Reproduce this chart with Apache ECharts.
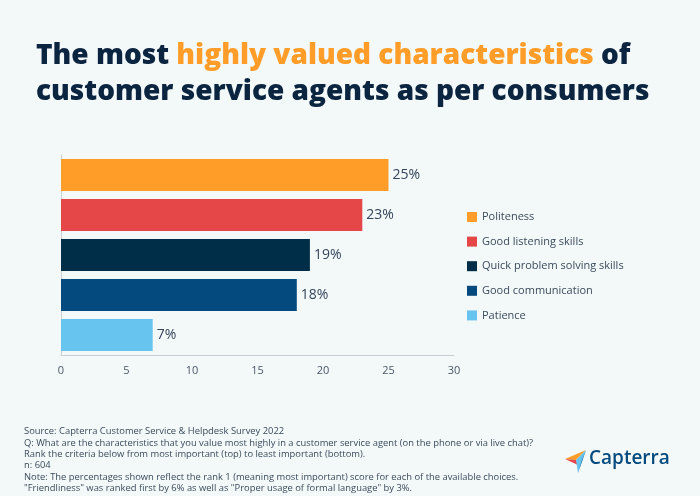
<!DOCTYPE html>
<html>
<head>
<meta charset="utf-8">
<script src="https://cdn.jsdelivr.net/npm/echarts@6/dist/echarts.min.js"></script>
<style>
  html, body { margin: 0; padding: 0; background: #f3f8f9; }
  #chart { width: 700px; height: 496px; }
</style>
</head>
<body>
<div id="chart"></div>
<script>
const categories = ["Politeness", "Good listening skills", "Quick problem solving skills", "Good communication", "Patience"];
const values = [25, 23, 19, 18, 7];
const colors = ["#ff9d28", "#e54647", "#002d47", "#044a7e", "#67c4ee"];
const xTicks = { min: 0, max: 30, interval: 5 };

const notes = [
  "Source: Capterra Customer Service & Helpdesk Survey 2022",
  "Q: What are the characteristics that you value most highly in a customer service agent (on the phone or via live chat)?",
  "Rank the criteria below from most important (top) to least important (bottom).",
  "n: 604",
  "Note: The percentages shown reflect the rank 1 (meaning most important) score for each of the available choices.",
  "\"Friendliness\" was ranked first by 6% as well as \"Proper usage of formal language\" by 3%."
];

const chart = echarts.init(document.getElementById("chart"));

// one series per category so the legend lists each one
const series = categories.map((name, i) => ({
  name: name,
  type: "bar",
  stack: "all",
  barWidth: "80%",
  itemStyle: { color: colors[i] },
  label: {
    show: true,
    position: "right",
    distance: 4,
    formatter: "{c}%",
    color: "#34445a",
    fontSize: 14,
    fontFamily: "Open Sans"
  },
  data: categories.map((c, j) => (j === i ? values[i] : null))
}));

const option = {
  backgroundColor: "#f3f8f9",
  animation: false,
  title: {
    left: 31,
    top: 33,
    text: "{a|The most }{b|highly valued characteristics}{a| of}\n{a|customer service agents as per consumers}",
    textStyle: {
      rich: {
        a: { fontFamily: "Open Sans", fontWeight: 800, fontSize: 28, color: "#0b2440", lineHeight: 36 },
        b: { fontFamily: "Open Sans", fontWeight: 800, fontSize: 28, color: "#ff9d28", lineHeight: 36 }
      }
    }
  },
  legend: {
    orient: "vertical",
    left: 462,
    top: 206,
    itemWidth: 10,
    itemHeight: 10,
    itemGap: 12.6,
    icon: "rect",
    textStyle: { color: "#3b4b5c", fontSize: 11, lineHeight: 12, fontFamily: "Open Sans" },
    data: categories
  },
  grid: { left: 61, right: 246, top: 155, bottom: 141 },
  xAxis: {
    type: "value",
    min: xTicks.min,
    max: xTicks.max,
    interval: xTicks.interval,
    splitLine: { show: false },
    axisLine: { show: true, lineStyle: { color: "#c9cfd4" } },
    axisTick: { show: false },
    axisLabel: { color: "#4a5866", fontSize: 11, fontFamily: "Open Sans", margin: 10 }
  },
  yAxis: {
    type: "category",
    inverse: true,
    data: categories,
    axisLine: { show: true, lineStyle: { color: "#c9cfd4" } },
    axisTick: { show: false },
    axisLabel: { show: false }
  },
  series: series,
  graphic: [
    {
      type: "text",
      left: 24,
      top: 426,
      style: {
        text: notes.join("\n"),
        fill: "#3b4b5c",
        font: "9.4px 'Open Sans'",
        lineHeight: 11.3
      }
    },
    {
      type: "group",
      left: 565,
      top: 450,
      children: [
        { type: "polygon", shape: { points: [[0, 9], [21, 0], [11, 10]] }, style: { fill: "#ff9d28" } },
        { type: "polygon", shape: { points: [[0, 9], [11, 10], [13, 15]] }, style: { fill: "#e54647" } },
        { type: "polygon", shape: { points: [[21, 0], [11, 10], [13, 23]] }, style: { fill: "#67c4ee" } },
        { type: "polygon", shape: { points: [[21, 0], [13, 23], [17, 10]] }, style: { fill: "#044a7e" } }
      ]
    },
    {
      type: "text",
      left: 589,
      top: 449,
      style: {
        text: "Capterra",
        fill: "#044a7e",
        font: "600 19px 'Open Sans'"
      }
    }
  ]
};

chart.setOption(option);
</script>
</body>
</html>
